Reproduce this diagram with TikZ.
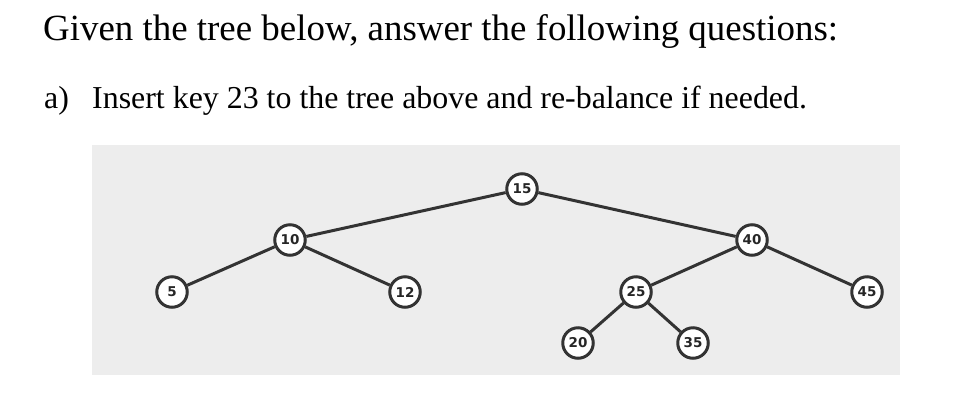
\documentclass[tikz,border=0pt]{standalone}
\usepackage{fontspec}
\setmainfont{Liberation Serif}
\newfontfamily\nodefont{DejaVu Sans}
\begin{document}
\begin{tikzpicture}[x=1pt,y=-1pt,
  tn/.style={circle,draw=black!80,line width=3pt,fill=white,minimum size=30.5pt,inner sep=0pt,font=\nodefont\bfseries\fontsize{13.5}{14}\selectfont,text=black!85},
  edge/.style={draw=black!80,line width=3pt}]
\useasboundingbox (0,0) rectangle (966,413);
\fill[black!7] (92,145) rectangle (900,375);
\node[anchor=base west,inner sep=0pt,font=\fontsize{36.9}{37}\selectfont] (title) at (43,40) {Given the tree below, answer the following questions:};
\node[anchor=base west,inner sep=0pt,font=\fontsize{31.9}{32}\selectfont] (qa) at (44,108) {a)};
\node[anchor=base west,inner sep=0pt,font=\fontsize{31.9}{32}\selectfont] (qtext) at (92,108) {Insert key 23 to the tree above and re-balance if needed.};
\node[tn] (n15) at (522,189) {15};
\node[tn] (n10) at (290,240) {10};
\node[tn] (n40) at (752,240) {40};
\node[tn] (n5) at (172,292) {5};
\node[tn] (n12) at (405,292) {12};
\node[tn] (n25) at (636,292) {25};
\node[tn] (n45) at (867,292) {45};
\node[tn] (n20) at (578,343) {20};
\node[tn] (n35) at (693,343) {35};
\path[edge] (n15) -- (n10);
\path[edge] (n15) -- (n40);
\path[edge] (n10) -- (n5);
\path[edge] (n10) -- (n12);
\path[edge] (n40) -- (n25);
\path[edge] (n40) -- (n45);
\path[edge] (n25) -- (n20);
\path[edge] (n25) -- (n35);
\end{tikzpicture}
\end{document}
